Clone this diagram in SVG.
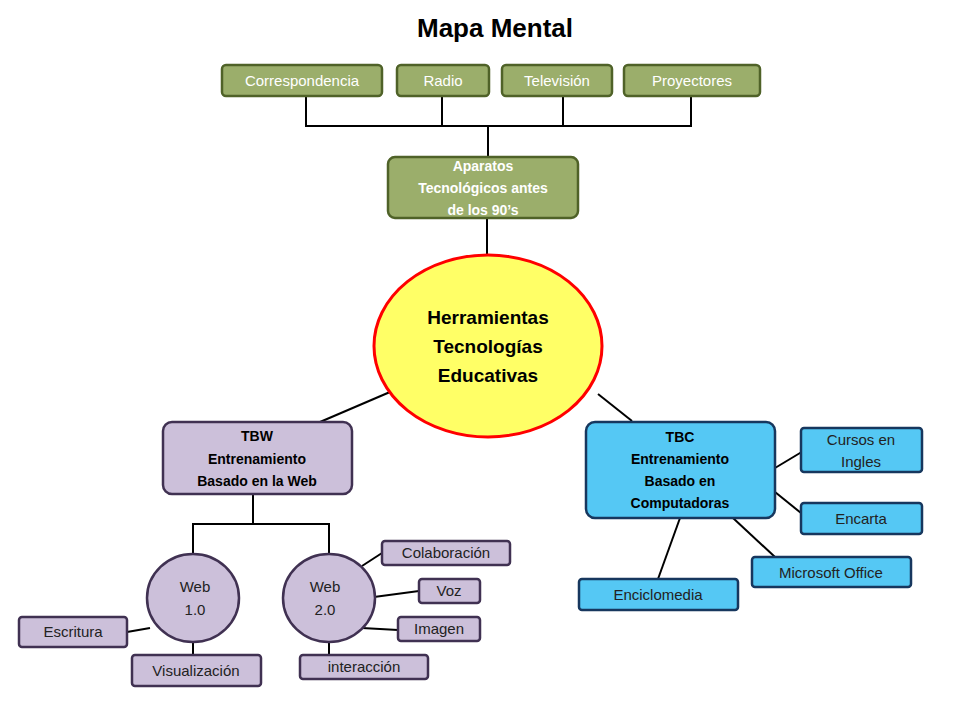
<svg xmlns="http://www.w3.org/2000/svg" width="960" height="720" viewBox="0 0 960 720">
<style>
text{font-family:"Liberation Sans",Arial,sans-serif;text-anchor:middle}
.g{fill:#9bae6b;stroke:#4f6228;stroke-width:2.5}
.gt{fill:#fff;font-size:15px}
.gb{fill:#fff;font-size:14px;font-weight:bold}
.p{fill:#ccc0da;stroke:#403152;stroke-width:2.5}
.b{fill:#55c8f4;stroke:#17375e;stroke-width:2.5}
.t{fill:#222;font-size:15px}
.tb{fill:#000;font-size:14px;font-weight:bold}
.c line{stroke:#000;stroke-width:2}
</style>
<rect width="960" height="720" fill="#fff"/>
<text x="495" y="37" style="font-size:26px;font-weight:bold">Mapa Mental</text>
<g class="c">
<line x1="306" y1="96" x2="306" y2="126"/><line x1="442" y1="96" x2="442" y2="126"/>
<line x1="563" y1="96" x2="563" y2="126"/><line x1="691" y1="96" x2="691" y2="126"/>
<line x1="305" y1="126" x2="692" y2="126"/><line x1="488" y1="126" x2="488" y2="157"/>
<line x1="487" y1="218" x2="487" y2="255"/>
<line x1="390" y1="392" x2="320" y2="422"/><line x1="598" y1="394" x2="632" y2="421"/>
<line x1="775" y1="468" x2="805" y2="450"/><line x1="775" y1="492" x2="801" y2="513"/>
<line x1="733" y1="518" x2="775" y2="557"/><line x1="680" y1="518" x2="658" y2="579"/>
<line x1="253" y1="494" x2="253" y2="524"/><line x1="192" y1="524" x2="330" y2="524"/>
<line x1="193" y1="524" x2="193" y2="556"/><line x1="329" y1="524" x2="329" y2="556"/>
<line x1="362" y1="566" x2="382" y2="553"/><line x1="374" y1="597" x2="419" y2="591"/>
<line x1="362" y1="628" x2="398" y2="630"/><line x1="329" y1="642" x2="329" y2="655"/>
<line x1="127" y1="632" x2="150" y2="628"/><line x1="193" y1="642" x2="193" y2="655"/>
</g>
<g id="correspondencia"><rect class="g" x="222" y="65" width="160" height="31" rx="4"/><text class="gt" x="302" y="86">Correspondencia</text></g>
<g id="radio"><rect class="g" x="397" y="65" width="92" height="31" rx="4"/><text class="gt" x="443" y="86">Radio</text></g>
<g id="television"><rect class="g" x="502" y="65" width="110" height="31" rx="4"/><text class="gt" x="557" y="86">Televisión</text></g>
<g id="proyectores"><rect class="g" x="624" y="65" width="136" height="31" rx="4"/><text class="gt" x="692" y="86">Proyectores</text></g>
<g id="aparatos"><rect class="g" x="388" y="157" width="190" height="61" rx="7"/>
<text class="gb" x="483" y="171">Aparatos</text><text class="gb" x="483" y="193">Tecnológicos antes</text><text class="gb" x="483" y="215">de los 90’s</text></g>
<g id="herramientas"><ellipse cx="488" cy="346" rx="114" ry="91" fill="#ffff66" stroke="#ff0000" stroke-width="3"/>
<text x="488" y="324" style="font-size:19px;font-weight:bold">Herramientas</text><text x="488" y="353" style="font-size:19px;font-weight:bold">Tecnologías</text><text x="488" y="382" style="font-size:19px;font-weight:bold">Educativas</text></g>
<g id="tbw"><rect class="p" x="163" y="422" width="189" height="72" rx="9"/>
<text class="tb" x="257" y="441">TBW</text><text class="tb" x="257" y="464">Entrenamiento</text><text class="tb" x="257" y="486">Basado en la Web</text></g>
<g id="tbc"><rect class="b" x="586" y="422" width="189" height="96" rx="9"/>
<text class="tb" x="680" y="442">TBC</text><text class="tb" x="680" y="464">Entrenamiento</text><text class="tb" x="680" y="486">Basado en</text><text class="tb" x="680" y="508">Computadoras</text></g>
<g id="cursos"><rect class="b" x="801" y="428" width="121" height="44" rx="3"/><text class="t" x="861" y="445">Cursos en</text><text class="t" x="861" y="467">Ingles</text></g>
<g id="encarta"><rect class="b" x="801" y="503" width="121" height="31" rx="3"/><text class="t" x="861" y="524">Encarta</text></g>
<g id="office"><rect class="b" x="752" y="557" width="159" height="30" rx="3"/><text class="t" x="831" y="578">Microsoft Office</text></g>
<g id="enciclomedia"><rect class="b" x="579" y="579" width="159" height="31" rx="3"/><text class="t" x="658" y="600">Enciclomedia</text></g>
<g id="web1"><ellipse class="p" cx="193" cy="598" rx="46" ry="44"/><text class="t" x="195" y="592">Web</text><text class="t" x="195" y="615">1.0</text></g>
<g id="web2"><ellipse class="p" cx="329" cy="598" rx="46" ry="44"/><text class="t" x="325" y="592">Web</text><text class="t" x="325" y="615">2.0</text></g>
<g id="colaboracion"><rect class="p" x="382" y="541" width="128" height="24" rx="3"/><text class="t" x="446" y="558">Colaboración</text></g>
<g id="voz"><rect class="p" x="419" y="579" width="61" height="24" rx="3"/><text class="t" x="449" y="596">Voz</text></g>
<g id="imagen"><rect class="p" x="398" y="617" width="82" height="24" rx="3"/><text class="t" x="439" y="634">Imagen</text></g>
<g id="interaccion"><rect class="p" x="300" y="655" width="128" height="24" rx="3"/><text class="t" x="364" y="672">interacción</text></g>
<g id="escritura"><rect class="p" x="19" y="617" width="108" height="30" rx="3"/><text class="t" x="73" y="637">Escritura</text></g>
<g id="visualizacion"><rect class="p" x="132" y="655" width="129" height="31" rx="3"/><text class="t" x="196" y="676">Visualización</text></g>
</svg>
